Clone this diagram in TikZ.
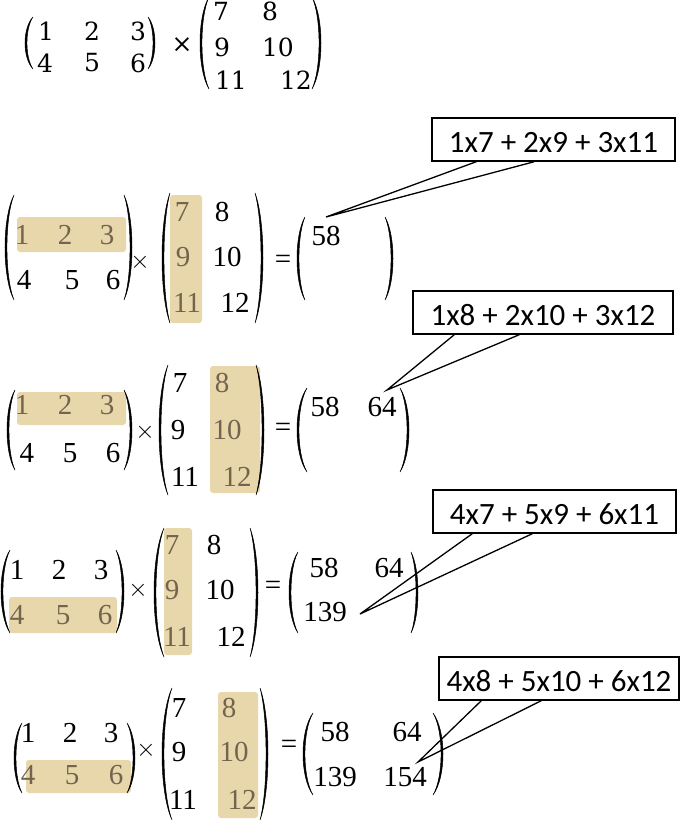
\documentclass[tikz,border=0pt]{standalone}
\usepackage{fontspec}
\setmainfont{Liberation Serif}
\newfontfamily\calib{Carlito}
\newfontfamily\topfont{DejaVu Serif}
\definecolor{hlfill}{RGB}{233,215,172}
\definecolor{hltext}{RGB}{115,100,78}
\tikzset{
  num/.style={inner sep=0pt, font=\fontsize{29}{31}\selectfont},
  hnum/.style={num, text=hltext},
  topnum/.style={inner sep=0pt, font=\topfont\fontsize{25}{27}\selectfont},
  hlbox/.style={fill=hlfill, rounded corners=3pt},
  cbox/.style={draw, line width=1.4pt, inner sep=0pt, minimum height=43pt},
  ctext/.style={inner sep=0pt, font=\calib\fontsize{31}{33}\selectfont},
  wedgeline/.style={line width=1.3pt, line join=miter},
}
% paren: tip x, top y, bottom y, visual middle x, signed thickness
\newcommand{\mypar}[5]{%
  \filldraw[line width=0.5pt]
    ({#1},{#2}) .. controls ({#1+(#4-#1)/0.75},{#2+0.22*(#3-#2)}) and ({#1+(#4-#1)/0.75},{#3-0.22*(#3-#2)}) .. ({#1},{#3})
    .. controls ({#1+(#4-#1)/0.75+#5},{#3-0.22*(#3-#2)}) and ({#1+(#4-#1)/0.75+#5},{#2+0.22*(#3-#2)}) .. cycle;}
\begin{document}
\begin{tikzpicture}[x=1pt,y=-1pt]
\useasboundingbox (0,0) rectangle (685,820);

% ---------- top row ----------
\mypar{33}{17}{69}{25}{2.6}
\mypar{148}{17}{69}{155}{-2.6}
\node[topnum] (t11) at (46,31) {1};
\node[topnum] (t12) at (92,31) {2};
\node[topnum] (t13) at (138,31) {3};
\node[topnum] (t21) at (45,63) {4};
\node[topnum] (t22) at (92,63) {5};
\node[topnum] (t23) at (138,63) {6};
\node[topnum] (tx) at (182,45) {×};
\mypar{209}{-3}{89}{200}{2.6}
\mypar{312}{-3}{89}{321}{-2.6}
\node[topnum] (tb11) at (221,11) {7};
\node[topnum] (tb12) at (270,11) {8};
\node[topnum] (tb21) at (222,47) {9};
\node[topnum] (tb22) at (278,47) {10};
\node[topnum] (tb31) at (231,80) {11};
\node[topnum] (tb32) at (296,80) {12};

% ---------- row 1 ----------
\fill[hlbox] (17,217) rectangle (126,252);
\fill[hlbox] (170,195) rectangle (202,323);
\mypar{14}{195}{300}{5}{2.6}
\mypar{124}{195}{300}{132}{-2.6}
\node[hnum] (a1) at (22,235) {1};
\node[hnum] (a2) at (65,235) {2};
\node[hnum] (a3) at (107,235) {3};
\node[num] (a4) at (24,280) {4};
\node[num] (a5) at (72,280) {5};
\node[num] (a6) at (113,280) {6};
\node[num] (ax) at (140,262) {$\times$};
\mypar{170}{193}{323}{162}{2.6}
\mypar{255}{193}{323}{263}{-2.6}
\node[hnum] (ab7) at (182,212) {7};
\node[hnum] (ab9) at (183,257) {9};
\node[hnum] (ab11) at (187,303) {11};
\node[num] (ab8) at (222,212) {8};
\node[num] (ab10) at (227,257) {10};
\node[num] (ab12) at (235,303) {12};
\node[num] (aeq) at (283,262) {=};
\mypar{305}{217}{300}{297}{2.6}
\mypar{385}{217}{300}{393}{-2.6}
\node[num] (ar1) at (326,236) {58};
\node[cbox, minimum width=243pt] (box1) at (553.5,139.5) {};
\node[ctext] (txt1) at (553.5,142.5) {1x7 + 2x9 + 3x11};
\coordinate (tip1) at (326,217);
\draw[wedgeline] ([xshift=45pt]box1.south west) -- (tip1) -- ([xshift=103pt]box1.south west);

% ---------- row 2 ----------
\fill[hlbox] (17,392) rectangle (126,425);
\fill[hlbox] (210,366) rectangle (260,493);
\mypar{15}{390}{470}{7}{2.6}
\mypar{124}{390}{470}{132}{-2.6}
\node[hnum] (b1) at (22,405) {1};
\node[hnum] (b2) at (65,405) {2};
\node[hnum] (b3) at (107,405) {3};
\node[num] (b4) at (27,453) {4};
\node[num] (b5) at (70,453) {5};
\node[num] (b6) at (113,453) {6};
\node[num] (bx) at (145,432) {$\times$};
\mypar{168}{365}{495}{159}{2.6}
\mypar{256}{365}{495}{264}{-2.6}
\node[num] (bb7) at (180,383) {7};
\node[num] (bb9) at (178,430) {9};
\node[num] (bb11) at (185,477) {11};
\node[hnum] (bb8) at (222,383) {8};
\node[hnum] (bb10) at (227,430) {10};
\node[hnum] (bb12) at (237,477) {12};
\node[num] (beq) at (283,430) {=};
\mypar{307}{388}{472}{297}{2.6}
\mypar{400}{388}{472}{409}{-2.6}
\node[num] (br1) at (325,407) {58};
\node[num] (br2) at (382,407) {64};
\node[cbox, minimum width=260pt] (box2) at (543,312.5) {};
\node[ctext] (txt2) at (543,315.5) {1x8 + 2x10 + 3x12};
\coordinate (tip2) at (387,390);
\draw[wedgeline] ([xshift=42pt]box2.south west) -- (tip2) -- ([xshift=107pt]box2.south west);

% ---------- row 3 ----------
\fill[hlbox] (9,597) rectangle (117,633);
\fill[hlbox] (164,528) rectangle (192,655);
\mypar{10}{550}{633}{1}{2.6}
\mypar{116}{550}{633}{124}{-2.6}
\node[num] (c1) at (17,570) {1};
\node[num] (c2) at (59,570) {2};
\node[num] (c3) at (101,570) {3};
\node[hnum] (c4) at (17,615) {4};
\node[hnum] (c5) at (63,615) {5};
\node[hnum] (c6) at (105,615) {6};
\node[num] (cx) at (138,590) {$\times$};
\mypar{164}{528}{657}{154}{2.6}
\mypar{250}{528}{657}{258}{-2.6}
\node[hnum] (cb7) at (172,545) {7};
\node[hnum] (cb9) at (172,590) {9};
\node[hnum] (cb11) at (177,637) {11};
\node[num] (cb8) at (214,545) {8};
\node[num] (cb10) at (220,590) {10};
\node[num] (cb12) at (231,637) {12};
\node[num] (ceq) at (273,588) {=};
\mypar{298}{552}{633}{289}{2.6}
\mypar{411}{552}{633}{418}{-2.6}
\node[num] (cr1) at (324,568) {58};
\node[num] (cr2) at (389,568) {64};
\node[num] (cr3) at (325,612) {139};
\node[cbox, minimum width=243pt] (box3) at (554.5,511.5) {};
\node[ctext] (txt3) at (554.5,514.5) {4x7 + 5x9 + 6x11};
\coordinate (tip3) at (360,614);
\draw[wedgeline] ([xshift=40pt]box3.south west) -- (tip3) -- ([xshift=100pt]box3.south west);

% ---------- row 4 ----------
\fill[hlbox] (26,760) rectangle (131,793);
\fill[hlbox] (218,692) rectangle (258,818);
\mypar{22}{723}{793}{14}{2.6}
\mypar{127}{723}{793}{135}{-2.6}
\node[num] (d1) at (28,733) {1};
\node[num] (d2) at (70,733) {2};
\node[num] (d3) at (111,733) {3};
\node[hnum] (d4) at (28,775) {4};
\node[hnum] (d5) at (72,775) {5};
\node[hnum] (d6) at (116,775) {6};
\node[num] (dx) at (146,750) {$\times$};
\mypar{172}{688}{820}{162}{2.6}
\mypar{260}{688}{820}{268}{-2.6}
\node[num] (db7) at (179,708) {7};
\node[num] (db9) at (179,752) {9};
\node[num] (db11) at (183,800) {11};
\node[hnum] (db8) at (229,708) {8};
\node[hnum] (db10) at (234,752) {10};
\node[hnum] (db12) at (242,800) {12};
\node[num] (deq) at (289,747) {=};
\mypar{313}{713}{795}{303}{2.6}
\mypar{433}{713}{795}{443}{-2.6}
\node[num] (dr1) at (335,732) {58};
\node[num] (dr2) at (407,732) {64};
\node[num] (dr3) at (335,777) {139};
\node[num] (dr4) at (405,777) {154};
\node[cbox, minimum width=240pt] (box4) at (559,678.5) {};
\node[ctext] (txt4) at (559,681.5) {4x8 + 5x10 + 6x12};
\coordinate (tip4) at (418,762);
\draw[wedgeline] ([xshift=43pt]box4.south west) -- (tip4) -- ([xshift=103pt]box4.south west);
\end{tikzpicture}
\end{document}
